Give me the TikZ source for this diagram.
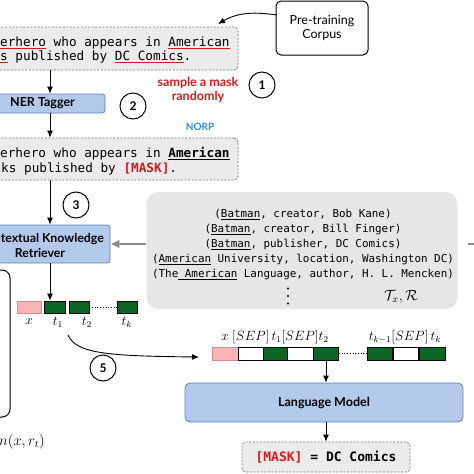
\documentclass[tikz,border=0pt]{standalone}
\usepackage{amsmath,amssymb}
\usepackage{fontspec}
\setmainfont{Lato}
\setmonofont{DejaVu Sans Mono}
\usepackage{tikz}
\usetikzlibrary{arrows.meta}

\definecolor{maskred}{HTML}{D7191C}
\definecolor{norpblue}{HTML}{2E8BDF}
\definecolor{tagblue}{HTML}{B3C9EC}
\definecolor{tagborder}{HTML}{5A84BE}
\definecolor{sentgray}{HTML}{EBEBEB}
\definecolor{boxgray}{HTML}{7A7A7A}
\definecolor{kbgray}{HTML}{E6E6E6}
\definecolor{arrgray}{HTML}{8C8C8C}
\definecolor{tokgreen}{HTML}{0B6623}
\definecolor{tokpink}{HTML}{F7B5B5}
\definecolor{pinkborder}{HTML}{D98C8C}

% underline a word with a coloured bar
\newcommand{\entline}[2]{\setbox0\hbox{#2}\rlap{\textcolor{#1}{\rule[-2.8pt]{\wd0}{1pt}}}\box0\relax}

\begin{document}
\begin{tikzpicture}[x=1pt, y=-1pt,
    arr/.style={-{Latex[length=7pt,width=6pt]}, line width=0.9pt},
    sentbox/.style={draw=boxgray, dash pattern=on 2pt off 1.6pt, fill=sentgray, rounded corners=4pt, line width=0.8pt, inner sep=0pt},
    bluebox/.style={draw=tagborder, fill=tagblue, rounded corners=3pt, line width=0.8pt, inner sep=0pt, font=\fontsize{12.5}{15}\selectfont\bfseries},
    stepnum/.style={circle, draw, line width=1pt, minimum size=26pt, inner sep=0pt, font=\fontsize{12}{14}\selectfont\bfseries},
    mono/.style={font=\fontsize{12.7}{15}\selectfont\ttfamily, inner sep=0pt, anchor=base west},
    kbtext/.style={font=\fontsize{10.9}{13}\selectfont\ttfamily, inner sep=0pt, anchor=base},
    tok/.style={draw, inner sep=0pt, minimum height=12pt, line width=0.6pt},
    lbl/.style={font=\fontsize{12}{14}\selectfont, inner sep=0pt, scale=1.12},
  ]
  \useasboundingbox (0,0) rectangle (474,474);
  \clip (0,0) rectangle (474,474);

  \coordinate (axis) at (50,0);

  % corpus and sampled sentence
  \node[draw, rounded corners=5pt, line width=1pt, minimum width=92pt, minimum height=54pt, align=center, font=\fontsize{12.5}{14}\selectfont] (corpus) at (322,28) {Pre-training\\Corpus};

  \node[sentbox, minimum width=258pt, minimum height=43pt] (sent) at (109,48.5) {};
  \node[mono] (sent1) at (0,46) {\entline{maskred}{erhero} who appears in \entline{maskred}{American}};
  \node[mono] (sent2) at (0,60) {\entline{maskred}{s} published by \entline{maskred}{DC Comics}.};

  \coordinate (corpout) at (277,15);
  \coordinate (sentin) at (218,24);
  \draw[arr] (corpout) to[out=172, in=30] (sentin);

  \node[stepnum] (n1) at (262,85) {1};
  \node[align=center, text=maskred, font=\fontsize{12.5}{14}\selectfont\bfseries] (sample) at (198,90) {sample a mask\\randomly};

  % tagging
  \node[bluebox, minimum width=125pt, minimum height=19pt] (ner) at (42.5,103.5) {NER Tagger};
  \node[stepnum] (n2) at (133,106) {2};
  \node[font=\fontsize{10}{12}\selectfont\bfseries, text=norpblue] (norp) at (200,127) {NORP};

  \draw[arr] (sent.south -| axis) -- (ner.north -| axis);

  \node[sentbox, minimum width=258pt, minimum height=42pt] (masked) at (109,159) {};
  \node[mono] (masked1) at (0,157) {erhero who appears in \entline{black}{\textbf{American}}};
  \node[mono] (masked2) at (1,172) {ks published by \textcolor{maskred}{\textbf{[MASK]}}.};

  \draw[arr] (ner.south -| axis) -- (masked.north -| axis);

  % retrieval
  \node[stepnum] (n3) at (76,205) {3};
  \node[bluebox, minimum width=130pt, minimum height=38pt] (retr) at (45,244) {};
  \node[font=\fontsize{12.3}{15}\selectfont\bfseries, anchor=base east, inner sep=0pt] (retr1) at (104,242) {textual Knowledge};
  \node[font=\fontsize{12.3}{15}\selectfont\bfseries, anchor=base, inner sep=0pt] (retr2) at (40,257) {Retriever};

  \draw[arr] (masked.south -| axis) -- (retr.north -| axis);

  \node[fill=kbgray, rounded corners=12pt, minimum width=311pt, minimum height=117pt, inner sep=0pt] (kb) at (302,250.5) {};
  \node[kbtext] (kb1) at (303,217) {(\entline{black}{Batman}, creator, Bob Kane)};
  \node[kbtext] (kb2) at (303,232) {(\entline{black}{Batman}, creator, Bill Finger)};
  \node[kbtext] (kb3) at (303,247) {(\entline{black}{Batman}, publisher, DC Comics)};
  \node[kbtext] (kb4) at (303,262) {(\entline{black}{American} University, location, Washington DC)};
  \node[kbtext] (kb5) at (303,277) {(The\entline{black}{ American} Language, author, H. L. Mencken)};
  \coordinate (kbdots) at (288,296);
  \fill ([yshift=7.5pt]kbdots) circle (1.2pt);
  \fill (kbdots) circle (1.2pt);
  \fill ([yshift=-7.5pt]kbdots) circle (1.2pt);
  \node[lbl, scale=1.1] (kbname) at (401,297) {$\mathcal{T}_x,\mathcal{R}$};

  \coordinate (kbout) at (468,244);
  \coordinate (rim) at (476,244);
  \draw[draw=arrgray, line width=2pt, -{Latex[length=9pt,width=9pt]}] (kb.west |- retr.east) -- (retr.east);
  \draw[draw=arrgray, line width=2pt] (kbout) -- (rim);

  % scoring box on the left
  \node[draw, rounded corners=8pt, line width=1pt, minimum width=40pt, minimum height=147pt] (sim) at (-10,343.5) {};
  \node[lbl, anchor=west, scale=1.1] (simlbl) at (-1,442) {$n(x,r_t)$};

  % retrieved triples
  \node[tok, fill=tokpink, draw=pinkborder, minimum width=24pt] (x) at (29,307) {};
  \node[tok, fill=tokgreen, minimum width=21pt] (t1) at (54.5,307) {};
  \node[tok, fill=tokgreen, minimum width=20pt] (t2) at (79,307) {};
  \node[tok, fill=tokgreen, minimum width=20pt] (tk) at (127,307) {};
  \draw[dotted, line width=0.7pt] (t2.east) -- (tk.west);
  \node[lbl] (xl) at (29,322) {$x$};
  \node[lbl] (t1l) at (58,322) {$t_1$};
  \node[lbl] (t2l) at (87,322) {$t_2$};
  \node[lbl] (tkl) at (127,322) {$t_k$};

  \draw[arr] (retr.south -| axis) -- (t1.north -| axis);

  % input to the language model
  \coordinate (s5) at (68,335);
  \coordinate (e5) at (199,357);
  \draw[arr] (s5) .. controls (76,354) and (110,356) .. (e5);
  \node[stepnum] (n5) at (103,368) {5};

  \node[tok, fill=tokpink, draw=pinkborder, minimum width=25.5pt, minimum height=13pt] (c1) at (225.5,353.5) {};
  \node[tok, fill=white, minimum width=25.5pt, minimum height=13pt] (c2) at (251,353.5) {};
  \node[tok, fill=tokgreen, minimum width=25.5pt, minimum height=13pt] (c3) at (276,353.5) {};
  \node[tok, fill=white, minimum width=25.5pt, minimum height=13pt] (c4) at (300.5,353.5) {};
  \node[tok, fill=tokgreen, minimum width=25.5pt, minimum height=13pt] (c5) at (326,353.5) {};
  \node[tok, fill=tokgreen, minimum width=25.5pt, minimum height=13pt] (c6) at (380,353.5) {};
  \node[tok, fill=white, minimum width=25.5pt, minimum height=13pt] (c7) at (406,353.5) {};
  \node[tok, fill=tokgreen, minimum width=25.5pt, minimum height=13pt] (c8) at (432.5,353.5) {};
  \draw[dotted, line width=0.7pt] (c5.east) -- (c6.west);
  \node[lbl] (seql1) at (275,337) {$x\ [SEP]\,t_1[SEP]t_2$};
  \node[lbl] (seql2) at (405,337) {$t_{k-1}[SEP]\,t_k$};

  \node[bluebox, minimum width=278pt, minimum height=39pt, rounded corners=5pt] (lm) at (324,402.5) {Language Model};
  \draw[arr] (c5.south) -- (lm.north -| c5);

  \node[sentbox, minimum width=168pt, minimum height=30pt, font=\fontsize{13}{15}\selectfont\ttfamily\bfseries] (out) at (326,457) {\textcolor{maskred}{[MASK]} = DC Comics};
  \draw[arr] (lm.south -| c5) -- (out.north -| c5);
\end{tikzpicture}
\end{document}
